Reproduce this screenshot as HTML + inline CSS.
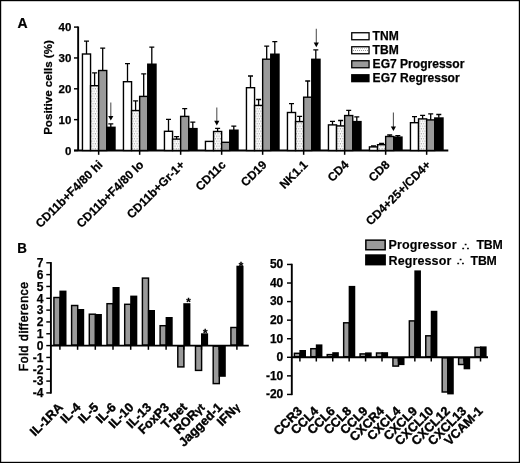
<!DOCTYPE html>
<html><head><meta charset="utf-8"><title>Figure</title>
<style>
html,body{margin:0;padding:0;background:#fff;}
svg{display:block;}
text{font-family:"Liberation Sans", sans-serif;font-weight:bold;fill:#000;}
</style></head><body>
<svg width="520" height="463" viewBox="0 0 520 463">
<defs>
<pattern id="dots" x="0.4" y="0.3" width="2.45" height="5" patternUnits="userSpaceOnUse">
<rect width="2.45" height="5" fill="#fff"/><rect x="0.2" y="0.5" width="1.05" height="1.05" fill="#8a8a8a"/><rect x="1.4" y="3" width="1.05" height="1.05" fill="#8a8a8a"/>
</pattern>
<pattern id="dots2" x="352.5" y="47" width="2" height="6" patternUnits="userSpaceOnUse">
<rect width="2" height="6" fill="#fff"/><rect x="0.5" y="1" width="1" height="0.8" fill="#c4c4c4"/><rect x="0.5" y="3" width="1" height="1" fill="#8a8a8a"/>
</pattern>
</defs>
<rect x="0" y="0" width="520" height="463" fill="#fff"/>
<rect x="0.6" y="0.6" width="518.8" height="461.8" fill="none" stroke="#000" stroke-width="1.2"/>

<text transform="translate(17.4,27.8) scale(0.9,1)" font-size="15.5" stroke="#000" stroke-width="0.25">A</text>
<path d="M78.15 26.4 V151.5 M74 150.5 H448.3" stroke="#000" stroke-width="1.9" fill="none"/>
<line x1="74" x2="78.15" y1="150.50" y2="150.50" stroke="#000" stroke-width="1.45"/>
<text x="71.3" y="154.80" font-size="11.5" text-anchor="end" stroke="#000" stroke-width="0.25">0</text>
<line x1="74" x2="78.15" y1="119.65" y2="119.65" stroke="#000" stroke-width="1.45"/>
<text x="71.3" y="123.95" font-size="11.5" text-anchor="end" stroke="#000" stroke-width="0.25">10</text>
<line x1="74" x2="78.15" y1="88.80" y2="88.80" stroke="#000" stroke-width="1.45"/>
<text x="71.3" y="93.10" font-size="11.5" text-anchor="end" stroke="#000" stroke-width="0.25">20</text>
<line x1="74" x2="78.15" y1="57.95" y2="57.95" stroke="#000" stroke-width="1.45"/>
<text x="71.3" y="62.25" font-size="11.5" text-anchor="end" stroke="#000" stroke-width="0.25">30</text>
<line x1="74" x2="78.15" y1="27.10" y2="27.10" stroke="#000" stroke-width="1.45"/>
<text x="71.3" y="31.40" font-size="11.5" text-anchor="end" stroke="#000" stroke-width="0.25">40</text>
<text transform="translate(51.8,87.5) rotate(-90)" font-size="11.6" text-anchor="middle" stroke="#000" stroke-width="0.25">Positive cells (%)</text>
<path d="M86.50 54.00 V41.10 M84.00 41.10 H89.00" stroke="#000" stroke-width="1.3" fill="none"/>
<rect x="82.45" y="54.00" width="8.10" height="96.50" fill="#fff" stroke="#000" stroke-width="1.4"/>
<path d="M94.60 85.70 V72.90 M92.10 72.90 H97.10" stroke="#000" stroke-width="1.3" fill="none"/>
<rect x="90.55" y="85.70" width="8.10" height="64.80" fill="url(#dots)" stroke="#000" stroke-width="1.4"/>
<path d="M102.70 70.50 V48.10 M100.20 48.10 H105.20" stroke="#000" stroke-width="1.3" fill="none"/>
<rect x="98.65" y="70.50" width="8.10" height="80.00" fill="#9a9a9a" stroke="#000" stroke-width="1.4"/>
<path d="M110.80 127.10 V123.80 M108.30 123.80 H113.30" stroke="#000" stroke-width="1.3" fill="none"/>
<rect x="106.05" y="126.60" width="9.65" height="23.90" fill="#000"/>
<line x1="98.65" x2="98.65" y1="150.5" y2="154.8" stroke="#000" stroke-width="1.5"/>
<text transform="translate(103.45,165.50) rotate(-45)" font-size="12" text-anchor="end" stroke="#000" stroke-width="0.25">CD11b+F4/80 hi</text>
<path d="M127.50 81.70 V63.60 M125.00 63.60 H130.00" stroke="#000" stroke-width="1.3" fill="none"/>
<rect x="123.45" y="81.70" width="8.10" height="68.80" fill="#fff" stroke="#000" stroke-width="1.4"/>
<path d="M135.60 110.55 V100.80 M133.10 100.80 H138.10" stroke="#000" stroke-width="1.3" fill="none"/>
<rect x="131.55" y="110.55" width="8.10" height="39.95" fill="url(#dots)" stroke="#000" stroke-width="1.4"/>
<path d="M143.70 96.40 V73.95 M141.20 73.95 H146.20" stroke="#000" stroke-width="1.3" fill="none"/>
<rect x="139.65" y="96.40" width="8.10" height="54.10" fill="#9a9a9a" stroke="#000" stroke-width="1.4"/>
<path d="M151.80 64.00 V47.10 M149.30 47.10 H154.30" stroke="#000" stroke-width="1.3" fill="none"/>
<rect x="147.05" y="63.50" width="9.65" height="87.00" fill="#000"/>
<line x1="139.65" x2="139.65" y1="150.5" y2="154.8" stroke="#000" stroke-width="1.5"/>
<text transform="translate(144.45,165.50) rotate(-45)" font-size="12" text-anchor="end" stroke="#000" stroke-width="0.25">CD11b+F4/80 lo</text>
<path d="M168.50 131.30 V119.40 M166.00 119.40 H171.00" stroke="#000" stroke-width="1.3" fill="none"/>
<rect x="164.45" y="131.30" width="8.10" height="19.20" fill="#fff" stroke="#000" stroke-width="1.4"/>
<path d="M176.60 139.10 V136.70 M174.10 136.70 H179.10" stroke="#000" stroke-width="1.3" fill="none"/>
<rect x="172.55" y="139.10" width="8.10" height="11.40" fill="url(#dots)" stroke="#000" stroke-width="1.4"/>
<path d="M184.70 116.40 V108.60 M182.20 108.60 H187.20" stroke="#000" stroke-width="1.3" fill="none"/>
<rect x="180.65" y="116.40" width="8.10" height="34.10" fill="#9a9a9a" stroke="#000" stroke-width="1.4"/>
<path d="M192.80 128.40 V122.20 M190.30 122.20 H195.30" stroke="#000" stroke-width="1.3" fill="none"/>
<rect x="188.05" y="127.90" width="9.65" height="22.60" fill="#000"/>
<line x1="180.65" x2="180.65" y1="150.5" y2="154.8" stroke="#000" stroke-width="1.5"/>
<text transform="translate(185.45,165.50) rotate(-45)" font-size="12" text-anchor="end" stroke="#000" stroke-width="0.25">CD11b+Gr-1+</text>
<rect x="205.45" y="141.40" width="8.10" height="9.10" fill="#fff" stroke="#000" stroke-width="1.4"/>
<path d="M217.60 131.50 V128.40 M215.10 128.40 H220.10" stroke="#000" stroke-width="1.3" fill="none"/>
<rect x="213.55" y="131.50" width="8.10" height="19.00" fill="url(#dots)" stroke="#000" stroke-width="1.4"/>
<rect x="221.65" y="142.30" width="8.10" height="8.20" fill="#9a9a9a" stroke="#000" stroke-width="1.4"/>
<path d="M233.80 130.00 V126.10 M231.30 126.10 H236.30" stroke="#000" stroke-width="1.3" fill="none"/>
<rect x="229.05" y="129.50" width="9.65" height="21.00" fill="#000"/>
<line x1="221.65" x2="221.65" y1="150.5" y2="154.8" stroke="#000" stroke-width="1.5"/>
<text transform="translate(226.45,165.50) rotate(-45)" font-size="12" text-anchor="end" stroke="#000" stroke-width="0.25">CD11c</text>
<path d="M250.50 87.70 V76.00 M248.00 76.00 H253.00" stroke="#000" stroke-width="1.3" fill="none"/>
<rect x="246.45" y="87.70" width="8.10" height="62.80" fill="#fff" stroke="#000" stroke-width="1.4"/>
<path d="M258.60 105.40 V99.50 M256.10 99.50 H261.10" stroke="#000" stroke-width="1.3" fill="none"/>
<rect x="254.55" y="105.40" width="8.10" height="45.10" fill="url(#dots)" stroke="#000" stroke-width="1.4"/>
<path d="M266.70 59.20 V46.20 M264.20 46.20 H269.20" stroke="#000" stroke-width="1.3" fill="none"/>
<rect x="262.65" y="59.20" width="8.10" height="91.30" fill="#9a9a9a" stroke="#000" stroke-width="1.4"/>
<path d="M274.80 54.00 V41.70 M272.30 41.70 H277.30" stroke="#000" stroke-width="1.3" fill="none"/>
<rect x="270.05" y="53.50" width="9.65" height="97.00" fill="#000"/>
<line x1="262.65" x2="262.65" y1="150.5" y2="154.8" stroke="#000" stroke-width="1.5"/>
<text transform="translate(267.45,165.50) rotate(-45)" font-size="12" text-anchor="end" stroke="#000" stroke-width="0.25">CD19</text>
<path d="M291.50 112.50 V103.70 M289.00 103.70 H294.00" stroke="#000" stroke-width="1.3" fill="none"/>
<rect x="287.45" y="112.50" width="8.10" height="38.00" fill="#fff" stroke="#000" stroke-width="1.4"/>
<path d="M299.60 121.60 V116.40 M297.10 116.40 H302.10" stroke="#000" stroke-width="1.3" fill="none"/>
<rect x="295.55" y="121.60" width="8.10" height="28.90" fill="url(#dots)" stroke="#000" stroke-width="1.4"/>
<path d="M307.70 97.20 V81.00 M305.20 81.00 H310.20" stroke="#000" stroke-width="1.3" fill="none"/>
<rect x="303.65" y="97.20" width="8.10" height="53.30" fill="#9a9a9a" stroke="#000" stroke-width="1.4"/>
<path d="M315.80 59.10 V49.80 M313.30 49.80 H318.30" stroke="#000" stroke-width="1.3" fill="none"/>
<rect x="311.05" y="58.60" width="9.65" height="91.90" fill="#000"/>
<line x1="303.65" x2="303.65" y1="150.5" y2="154.8" stroke="#000" stroke-width="1.5"/>
<text transform="translate(308.45,165.50) rotate(-45)" font-size="12" text-anchor="end" stroke="#000" stroke-width="0.25">NK1.1</text>
<path d="M332.50 124.90 V121.40 M330.00 121.40 H335.00" stroke="#000" stroke-width="1.3" fill="none"/>
<rect x="328.45" y="124.90" width="8.10" height="25.60" fill="#fff" stroke="#000" stroke-width="1.4"/>
<path d="M340.60 125.90 V120.50 M338.10 120.50 H343.10" stroke="#000" stroke-width="1.3" fill="none"/>
<rect x="336.55" y="125.90" width="8.10" height="24.60" fill="url(#dots)" stroke="#000" stroke-width="1.4"/>
<path d="M348.70 115.55 V110.40 M346.20 110.40 H351.20" stroke="#000" stroke-width="1.3" fill="none"/>
<rect x="344.65" y="115.55" width="8.10" height="34.95" fill="#9a9a9a" stroke="#000" stroke-width="1.4"/>
<path d="M356.80 121.40 V116.80 M354.30 116.80 H359.30" stroke="#000" stroke-width="1.3" fill="none"/>
<rect x="352.05" y="120.90" width="9.65" height="29.60" fill="#000"/>
<line x1="344.65" x2="344.65" y1="150.5" y2="154.8" stroke="#000" stroke-width="1.5"/>
<text transform="translate(349.45,165.50) rotate(-45)" font-size="12" text-anchor="end" stroke="#000" stroke-width="0.25">CD4</text>
<path d="M373.50 146.90 V146.00 M371.00 146.00 H376.00" stroke="#000" stroke-width="1.3" fill="none"/>
<rect x="369.45" y="146.90" width="8.10" height="3.60" fill="#fff" stroke="#000" stroke-width="1.4"/>
<path d="M381.60 144.70 V143.40 M379.10 143.40 H384.10" stroke="#000" stroke-width="1.3" fill="none"/>
<rect x="377.55" y="144.70" width="8.10" height="5.80" fill="url(#dots)" stroke="#000" stroke-width="1.4"/>
<path d="M389.70 136.50 V135.00 M387.20 135.00 H392.20" stroke="#000" stroke-width="1.3" fill="none"/>
<rect x="385.65" y="136.50" width="8.10" height="14.00" fill="#9a9a9a" stroke="#000" stroke-width="1.4"/>
<path d="M397.80 136.90 V135.60 M395.30 135.60 H400.30" stroke="#000" stroke-width="1.3" fill="none"/>
<rect x="393.05" y="136.40" width="9.65" height="14.10" fill="#000"/>
<line x1="385.65" x2="385.65" y1="150.5" y2="154.8" stroke="#000" stroke-width="1.5"/>
<text transform="translate(390.45,165.50) rotate(-45)" font-size="12" text-anchor="end" stroke="#000" stroke-width="0.25">CD8</text>
<path d="M414.50 122.70 V116.70 M412.00 116.70 H417.00" stroke="#000" stroke-width="1.3" fill="none"/>
<rect x="410.45" y="122.70" width="8.10" height="27.80" fill="#fff" stroke="#000" stroke-width="1.4"/>
<path d="M422.60 118.90 V115.40 M420.10 115.40 H425.10" stroke="#000" stroke-width="1.3" fill="none"/>
<rect x="418.55" y="118.90" width="8.10" height="31.60" fill="url(#dots)" stroke="#000" stroke-width="1.4"/>
<path d="M430.70 119.90 V113.80 M428.20 113.80 H433.20" stroke="#000" stroke-width="1.3" fill="none"/>
<rect x="426.65" y="119.90" width="8.10" height="30.60" fill="#9a9a9a" stroke="#000" stroke-width="1.4"/>
<path d="M438.80 117.80 V114.50 M436.30 114.50 H441.30" stroke="#000" stroke-width="1.3" fill="none"/>
<rect x="434.05" y="117.30" width="9.65" height="33.20" fill="#000"/>
<line x1="426.65" x2="426.65" y1="150.5" y2="154.8" stroke="#000" stroke-width="1.5"/>
<text transform="translate(431.45,165.50) rotate(-45)" font-size="12" text-anchor="end" stroke="#000" stroke-width="0.25">CD4+25+/CD4+</text>
<path d="M110.8 102.4 V117.6" stroke="#555" stroke-width="1.1" fill="none"/>
<path d="M108.2 116.0 H113.39999999999999 L110.8 120.6 Z" fill="#000"/>
<path d="M216.8 107.5 V122.4" stroke="#555" stroke-width="1.1" fill="none"/>
<path d="M214.20000000000002 120.80000000000001 H219.4 L216.8 125.4 Z" fill="#000"/>
<path d="M316.3 28.8 V44.2" stroke="#555" stroke-width="1.1" fill="none"/>
<path d="M313.7 42.6 H318.90000000000003 L316.3 47.2 Z" fill="#000"/>
<path d="M393.4 112.6 V128.1" stroke="#555" stroke-width="1.1" fill="none"/>
<path d="M390.79999999999995 126.5 H396.0 L393.4 131.1 Z" fill="#000"/>
<rect x="351.75" y="32.75" width="17.3" height="7.0" fill="#fff" stroke="#000" stroke-width="1.3"/>
<text x="372.6" y="39.80" font-size="12.05" stroke="#000" stroke-width="0.25">TNM</text>
<rect x="351.75" y="46.75" width="17.3" height="7.0" fill="#fff" stroke="#000" stroke-width="1.3"/>
<path d="M353 50h1v1h-1zM355 50h1v1h-1zM357 50h1v1h-1zM359 50h1v1h-1zM361 50h1v1h-1zM363 50h1v1h-1zM365 50h1v1h-1zM367 50h1v1h-1z" fill="#999" shape-rendering="crispEdges"/>
<path d="M354 48h1v1h-1zM356 48h1v1h-1zM358 48h1v1h-1zM360 48h1v1h-1zM362 48h1v1h-1zM364 48h1v1h-1zM366 48h1v1h-1z" fill="#ccc" shape-rendering="crispEdges"/>
<text x="372.6" y="53.90" font-size="12.05" stroke="#000" stroke-width="0.25">TBM</text>
<rect x="351.75" y="60.75" width="17.3" height="7.0" fill="#9a9a9a" stroke="#000" stroke-width="1.3"/>
<text x="372.6" y="68.00" font-size="12.05" stroke="#000" stroke-width="0.25">EG7 Progressor</text>
<rect x="351.1" y="74.1" width="18.5" height="8.2" fill="#000"/>
<text x="372.6" y="82.10" font-size="12.05" stroke="#000" stroke-width="0.25">EG7 Regressor</text>
<text transform="translate(17.2,252.7) scale(0.93,1)" font-size="14.3" stroke="#000" stroke-width="0.25">B</text>
<path d="M50.9 262.09 V393.62" stroke="#000" stroke-width="1.9" fill="none"/>
<path d="M50.9 345.6 H248.8" stroke="#000" stroke-width="1.9" fill="none"/>
<line x1="46.3" x2="50.9" y1="392.92" y2="392.92" stroke="#000" stroke-width="1.45"/>
<text x="43.5" y="397.27" font-size="12" text-anchor="end" stroke="#000" stroke-width="0.25">-4</text>
<line x1="46.3" x2="50.9" y1="381.09" y2="381.09" stroke="#000" stroke-width="1.45"/>
<text x="43.5" y="385.44" font-size="12" text-anchor="end" stroke="#000" stroke-width="0.25">-3</text>
<line x1="46.3" x2="50.9" y1="369.26" y2="369.26" stroke="#000" stroke-width="1.45"/>
<text x="43.5" y="373.61" font-size="12" text-anchor="end" stroke="#000" stroke-width="0.25">-2</text>
<line x1="46.3" x2="50.9" y1="357.43" y2="357.43" stroke="#000" stroke-width="1.45"/>
<text x="43.5" y="361.78" font-size="12" text-anchor="end" stroke="#000" stroke-width="0.25">-1</text>
<line x1="46.3" x2="50.9" y1="345.60" y2="345.60" stroke="#000" stroke-width="1.45"/>
<text x="43.5" y="349.95" font-size="12" text-anchor="end" stroke="#000" stroke-width="0.25">0</text>
<line x1="46.3" x2="50.9" y1="333.77" y2="333.77" stroke="#000" stroke-width="1.45"/>
<text x="43.5" y="338.12" font-size="12" text-anchor="end" stroke="#000" stroke-width="0.25">1</text>
<line x1="46.3" x2="50.9" y1="321.94" y2="321.94" stroke="#000" stroke-width="1.45"/>
<text x="43.5" y="326.29" font-size="12" text-anchor="end" stroke="#000" stroke-width="0.25">2</text>
<line x1="46.3" x2="50.9" y1="310.11" y2="310.11" stroke="#000" stroke-width="1.45"/>
<text x="43.5" y="314.46" font-size="12" text-anchor="end" stroke="#000" stroke-width="0.25">3</text>
<line x1="46.3" x2="50.9" y1="298.28" y2="298.28" stroke="#000" stroke-width="1.45"/>
<text x="43.5" y="302.63" font-size="12" text-anchor="end" stroke="#000" stroke-width="0.25">4</text>
<line x1="46.3" x2="50.9" y1="286.45" y2="286.45" stroke="#000" stroke-width="1.45"/>
<text x="43.5" y="290.80" font-size="12" text-anchor="end" stroke="#000" stroke-width="0.25">5</text>
<line x1="46.3" x2="50.9" y1="274.62" y2="274.62" stroke="#000" stroke-width="1.45"/>
<text x="43.5" y="278.97" font-size="12" text-anchor="end" stroke="#000" stroke-width="0.25">6</text>
<line x1="46.3" x2="50.9" y1="262.79" y2="262.79" stroke="#000" stroke-width="1.45"/>
<text x="43.5" y="267.14" font-size="12" text-anchor="end" stroke="#000" stroke-width="0.25">7</text>
<text transform="translate(27.7,326.6) rotate(-90)" font-size="12.2" text-anchor="middle" textLength="89.5" lengthAdjust="spacing" style="font-weight:normal" stroke="#000" stroke-width="0.55">Fold difference</text>
<rect x="53.90" y="297.50" width="6.10" height="47.50" fill="#9a9a9a" stroke="#000" stroke-width="1.45"/>
<rect x="59.40" y="290.60" width="7.10" height="55.00" fill="#000"/>
<line x1="59.90" x2="59.90" y1="345.6" y2="349.8" stroke="#000" stroke-width="1.5"/>
<text transform="translate(63.70,408.12) rotate(-45)" font-size="12.6" text-anchor="end" stroke="#000" stroke-width="0.4">IL-1RA</text>
<rect x="71.60" y="305.50" width="6.10" height="39.50" fill="#9a9a9a" stroke="#000" stroke-width="1.45"/>
<rect x="77.10" y="309.00" width="7.10" height="36.60" fill="#000"/>
<line x1="77.60" x2="77.60" y1="345.6" y2="349.8" stroke="#000" stroke-width="1.5"/>
<text transform="translate(81.40,408.12) rotate(-45)" font-size="12.6" text-anchor="end" stroke="#000" stroke-width="0.4">IL-4</text>
<rect x="89.30" y="314.20" width="6.10" height="30.80" fill="#9a9a9a" stroke="#000" stroke-width="1.45"/>
<rect x="94.80" y="314.00" width="7.10" height="31.60" fill="#000"/>
<line x1="95.30" x2="95.30" y1="345.6" y2="349.8" stroke="#000" stroke-width="1.5"/>
<text transform="translate(99.10,408.12) rotate(-45)" font-size="12.6" text-anchor="end" stroke="#000" stroke-width="0.4">IL-5</text>
<rect x="107.00" y="303.70" width="6.10" height="41.30" fill="#9a9a9a" stroke="#000" stroke-width="1.45"/>
<rect x="112.50" y="287.00" width="7.10" height="58.60" fill="#000"/>
<line x1="113.00" x2="113.00" y1="345.6" y2="349.8" stroke="#000" stroke-width="1.5"/>
<text transform="translate(116.80,408.12) rotate(-45)" font-size="12.6" text-anchor="end" stroke="#000" stroke-width="0.4">IL-6</text>
<rect x="124.70" y="304.30" width="6.10" height="40.70" fill="#9a9a9a" stroke="#000" stroke-width="1.45"/>
<rect x="130.20" y="295.60" width="7.10" height="50.00" fill="#000"/>
<line x1="130.70" x2="130.70" y1="345.6" y2="349.8" stroke="#000" stroke-width="1.5"/>
<text transform="translate(134.50,408.12) rotate(-45)" font-size="12.6" text-anchor="end" stroke="#000" stroke-width="0.4">IL-10</text>
<rect x="142.40" y="278.10" width="6.10" height="66.90" fill="#9a9a9a" stroke="#000" stroke-width="1.45"/>
<rect x="147.90" y="310.00" width="7.10" height="35.60" fill="#000"/>
<line x1="148.40" x2="148.40" y1="345.6" y2="349.8" stroke="#000" stroke-width="1.5"/>
<text transform="translate(152.20,408.12) rotate(-45)" font-size="12.6" text-anchor="end" stroke="#000" stroke-width="0.4">IL-13</text>
<rect x="160.10" y="325.70" width="6.10" height="19.30" fill="#9a9a9a" stroke="#000" stroke-width="1.45"/>
<rect x="165.60" y="317.00" width="7.10" height="28.60" fill="#000"/>
<line x1="166.10" x2="166.10" y1="345.6" y2="349.8" stroke="#000" stroke-width="1.5"/>
<text transform="translate(169.90,408.12) rotate(-45)" font-size="12.6" text-anchor="end" stroke="#000" stroke-width="0.4">FoxP3</text>
<rect x="177.80" y="346.20" width="6.10" height="20.70" fill="#9a9a9a" stroke="#000" stroke-width="1.45"/>
<rect x="183.30" y="303.20" width="7.10" height="42.40" fill="#000"/>
<line x1="183.80" x2="183.80" y1="345.6" y2="349.8" stroke="#000" stroke-width="1.5"/>
<text transform="translate(187.60,408.12) rotate(-45)" font-size="12.6" text-anchor="end" stroke="#000" stroke-width="0.4">T-bet</text>
<rect x="195.50" y="346.20" width="6.10" height="24.20" fill="#9a9a9a" stroke="#000" stroke-width="1.45"/>
<rect x="201.00" y="333.30" width="7.10" height="12.30" fill="#000"/>
<line x1="201.50" x2="201.50" y1="345.6" y2="349.8" stroke="#000" stroke-width="1.5"/>
<text transform="translate(205.30,408.12) rotate(-45)" font-size="12.6" text-anchor="end" stroke="#000" stroke-width="0.4">ROR<tspan font-size="10.8">γt</tspan></text>
<rect x="213.20" y="346.20" width="6.10" height="37.40" fill="#9a9a9a" stroke="#000" stroke-width="1.45"/>
<rect x="218.70" y="345.60" width="7.10" height="31.20" fill="#000"/>
<line x1="219.20" x2="219.20" y1="345.6" y2="349.8" stroke="#000" stroke-width="1.5"/>
<text transform="translate(223.00,408.12) rotate(-45)" font-size="12.6" text-anchor="end" stroke="#000" stroke-width="0.4">Jagged-1</text>
<rect x="230.90" y="327.50" width="6.10" height="17.50" fill="#9a9a9a" stroke="#000" stroke-width="1.45"/>
<rect x="236.40" y="265.70" width="7.10" height="79.90" fill="#000"/>
<line x1="236.90" x2="236.90" y1="345.6" y2="349.8" stroke="#000" stroke-width="1.5"/>
<text transform="translate(240.70,408.12) rotate(-45)" font-size="12.6" text-anchor="end" stroke="#000" stroke-width="0.4">IFN<tspan font-size="10.8">γ</tspan></text>
<text x="188.4" y="306.4" font-size="11.5" text-anchor="middle" stroke="#000" stroke-width="0.3">*</text>
<text x="205.3" y="336.5" font-size="11.5" text-anchor="middle" stroke="#000" stroke-width="0.3">*</text>
<text x="240.9" y="269.8" font-size="11.5" text-anchor="middle" stroke="#000" stroke-width="0.3">*</text>
<path d="M291.8 263.75 V395.14" stroke="#000" stroke-width="1.9" fill="none"/>
<path d="M291.8 357.3 H488" stroke="#000" stroke-width="1.9" fill="none"/>
<line x1="287" x2="291.8" y1="394.44" y2="394.44" stroke="#000" stroke-width="1.45"/>
<text x="283.3" y="398.24" font-size="12" text-anchor="end" stroke="#000" stroke-width="0.25">-20</text>
<line x1="287" x2="291.8" y1="375.87" y2="375.87" stroke="#000" stroke-width="1.45"/>
<text x="283.3" y="379.67" font-size="12" text-anchor="end" stroke="#000" stroke-width="0.25">-10</text>
<line x1="287" x2="291.8" y1="357.30" y2="357.30" stroke="#000" stroke-width="1.45"/>
<text x="283.3" y="361.10" font-size="12" text-anchor="end" stroke="#000" stroke-width="0.25">0</text>
<line x1="287" x2="291.8" y1="338.73" y2="338.73" stroke="#000" stroke-width="1.45"/>
<text x="283.3" y="342.53" font-size="12" text-anchor="end" stroke="#000" stroke-width="0.25">10</text>
<line x1="287" x2="291.8" y1="320.16" y2="320.16" stroke="#000" stroke-width="1.45"/>
<text x="283.3" y="323.96" font-size="12" text-anchor="end" stroke="#000" stroke-width="0.25">20</text>
<line x1="287" x2="291.8" y1="301.59" y2="301.59" stroke="#000" stroke-width="1.45"/>
<text x="283.3" y="305.39" font-size="12" text-anchor="end" stroke="#000" stroke-width="0.25">30</text>
<line x1="287" x2="291.8" y1="283.02" y2="283.02" stroke="#000" stroke-width="1.45"/>
<text x="283.3" y="286.82" font-size="12" text-anchor="end" stroke="#000" stroke-width="0.25">40</text>
<line x1="287" x2="291.8" y1="264.45" y2="264.45" stroke="#000" stroke-width="1.45"/>
<text x="283.3" y="268.25" font-size="12" text-anchor="end" stroke="#000" stroke-width="0.25">50</text>
<rect x="294.40" y="353.30" width="5.60" height="3.40" fill="#9a9a9a" stroke="#000" stroke-width="1.45"/>
<rect x="299.40" y="350.00" width="6.60" height="7.30" fill="#000"/>
<line x1="299.90" x2="299.90" y1="357.3" y2="361.5" stroke="#000" stroke-width="1.5"/>
<text transform="translate(302.90,411.84) rotate(-45)" font-size="12.6" text-anchor="end" stroke="#000" stroke-width="0.4">CCR3</text>
<rect x="310.82" y="348.70" width="5.60" height="8.00" fill="#9a9a9a" stroke="#000" stroke-width="1.45"/>
<rect x="315.82" y="344.40" width="6.60" height="12.90" fill="#000"/>
<line x1="316.32" x2="316.32" y1="357.3" y2="361.5" stroke="#000" stroke-width="1.5"/>
<text transform="translate(319.32,411.84) rotate(-45)" font-size="12.6" text-anchor="end" stroke="#000" stroke-width="0.4">CCL4</text>
<rect x="327.24" y="354.60" width="5.60" height="2.10" fill="#9a9a9a" stroke="#000" stroke-width="1.45"/>
<rect x="332.24" y="352.20" width="6.60" height="5.10" fill="#000"/>
<line x1="332.74" x2="332.74" y1="357.3" y2="361.5" stroke="#000" stroke-width="1.5"/>
<text transform="translate(335.74,411.84) rotate(-45)" font-size="12.6" text-anchor="end" stroke="#000" stroke-width="0.4">CCL6</text>
<rect x="343.66" y="322.80" width="5.60" height="33.90" fill="#9a9a9a" stroke="#000" stroke-width="1.45"/>
<rect x="348.66" y="285.90" width="6.60" height="71.40" fill="#000"/>
<line x1="349.16" x2="349.16" y1="357.3" y2="361.5" stroke="#000" stroke-width="1.5"/>
<text transform="translate(352.16,411.84) rotate(-45)" font-size="12.6" text-anchor="end" stroke="#000" stroke-width="0.4">CCL8</text>
<rect x="360.08" y="353.90" width="5.60" height="2.80" fill="#9a9a9a" stroke="#000" stroke-width="1.45"/>
<rect x="365.08" y="352.40" width="6.60" height="4.90" fill="#000"/>
<line x1="365.58" x2="365.58" y1="357.3" y2="361.5" stroke="#000" stroke-width="1.5"/>
<text transform="translate(368.58,411.84) rotate(-45)" font-size="12.6" text-anchor="end" stroke="#000" stroke-width="0.4">CCL9</text>
<rect x="376.50" y="353.00" width="5.60" height="3.70" fill="#9a9a9a" stroke="#000" stroke-width="1.45"/>
<rect x="381.50" y="352.20" width="6.60" height="5.10" fill="#000"/>
<line x1="382.00" x2="382.00" y1="357.3" y2="361.5" stroke="#000" stroke-width="1.5"/>
<text transform="translate(385.00,411.84) rotate(-45)" font-size="12.6" text-anchor="end" stroke="#000" stroke-width="0.4">CXCR4</text>
<rect x="392.92" y="357.90" width="5.60" height="8.20" fill="#9a9a9a" stroke="#000" stroke-width="1.45"/>
<rect x="397.92" y="357.30" width="6.60" height="7.80" fill="#000"/>
<line x1="398.42" x2="398.42" y1="357.3" y2="361.5" stroke="#000" stroke-width="1.5"/>
<text transform="translate(401.42,411.84) rotate(-45)" font-size="12.6" text-anchor="end" stroke="#000" stroke-width="0.4">CXCL4</text>
<rect x="409.34" y="320.90" width="5.60" height="35.80" fill="#9a9a9a" stroke="#000" stroke-width="1.45"/>
<rect x="414.34" y="270.40" width="6.60" height="86.90" fill="#000"/>
<line x1="414.84" x2="414.84" y1="357.3" y2="361.5" stroke="#000" stroke-width="1.5"/>
<text transform="translate(417.84,411.84) rotate(-45)" font-size="12.6" text-anchor="end" stroke="#000" stroke-width="0.4">CXCL9</text>
<rect x="425.76" y="335.80" width="5.60" height="20.90" fill="#9a9a9a" stroke="#000" stroke-width="1.45"/>
<rect x="430.76" y="310.80" width="6.60" height="46.50" fill="#000"/>
<line x1="431.26" x2="431.26" y1="357.3" y2="361.5" stroke="#000" stroke-width="1.5"/>
<text transform="translate(434.26,411.84) rotate(-45)" font-size="12.6" text-anchor="end" stroke="#000" stroke-width="0.4">CXCL10</text>
<rect x="442.18" y="357.90" width="5.60" height="34.10" fill="#9a9a9a" stroke="#000" stroke-width="1.45"/>
<rect x="447.18" y="357.30" width="6.60" height="37.10" fill="#000"/>
<line x1="447.68" x2="447.68" y1="357.3" y2="361.5" stroke="#000" stroke-width="1.5"/>
<text transform="translate(450.68,411.84) rotate(-45)" font-size="12.6" text-anchor="end" stroke="#000" stroke-width="0.4">CXCL12</text>
<rect x="458.60" y="357.90" width="5.60" height="6.60" fill="#9a9a9a" stroke="#000" stroke-width="1.45"/>
<rect x="463.60" y="357.30" width="6.60" height="12.00" fill="#000"/>
<line x1="464.10" x2="464.10" y1="357.3" y2="361.5" stroke="#000" stroke-width="1.5"/>
<text transform="translate(467.10,411.84) rotate(-45)" font-size="12.6" text-anchor="end" stroke="#000" stroke-width="0.4">CXCL13</text>
<rect x="475.02" y="347.40" width="5.60" height="9.30" fill="#9a9a9a" stroke="#000" stroke-width="1.45"/>
<rect x="480.02" y="346.40" width="6.60" height="10.90" fill="#000"/>
<line x1="480.52" x2="480.52" y1="357.3" y2="361.5" stroke="#000" stroke-width="1.5"/>
<text transform="translate(483.52,411.84) rotate(-45)" font-size="12.6" text-anchor="end" stroke="#000" stroke-width="0.4">VCAM-1</text>
<rect x="365.85" y="240.15" width="19.3" height="9.6" fill="#9a9a9a" stroke="#000" stroke-width="1.5"/>
<text x="388.5" y="249.20" font-size="12.5" textLength="68.0" lengthAdjust="spacing" stroke="#000" stroke-width="0.15">Progressor</text>
<text transform="translate(465.80,249.50) scale(1,0.8)" font-size="11" text-anchor="middle" style="font-weight:normal" stroke="#000" stroke-width="0.6">∴</text>
<text x="476.50" y="249.20" font-size="12.3" textLength="26.2" lengthAdjust="spacing" stroke="#000" stroke-width="0.15">TBM</text>
<rect x="365.1" y="254.3" width="20.8" height="11.1" fill="#000"/>
<text x="388.5" y="264.60" font-size="12.5" textLength="62.8" lengthAdjust="spacing" stroke="#000" stroke-width="0.15">Regressor</text>
<text transform="translate(459.90,264.90) scale(1,0.8)" font-size="11" text-anchor="middle" style="font-weight:normal" stroke="#000" stroke-width="0.6">∴</text>
<text x="470.60" y="264.60" font-size="12.3" textLength="26.2" lengthAdjust="spacing" stroke="#000" stroke-width="0.15">TBM</text>
</svg></body></html>
